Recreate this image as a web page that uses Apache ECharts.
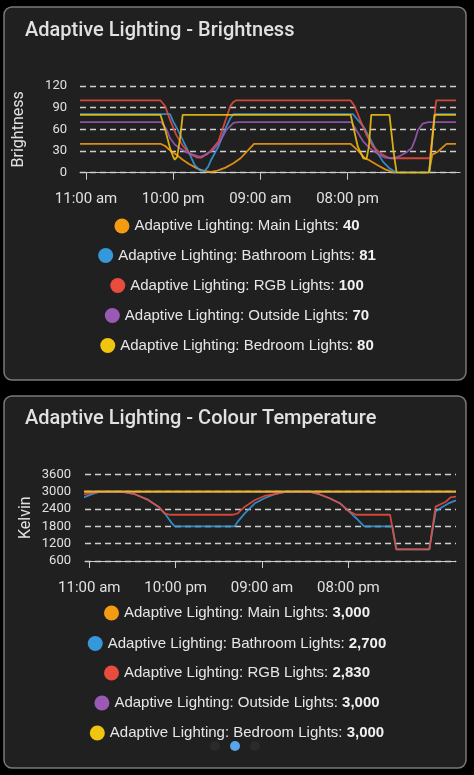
<!DOCTYPE html>
<html>
<head>
<meta charset="utf-8">
<script src="https://cdn.jsdelivr.net/npm/echarts@6/dist/echarts.min.js"></script>
<style>
html,body{margin:0;padding:0;background:#000;}
#chart{width:474px;height:775px;}
</style>
</head>
<body>
<div id="chart"></div>
<script>
// ---------- names, colours, ticks ----------
const seriesNames = [
  'Adaptive Lighting: Main Lights',
  'Adaptive Lighting: Bathroom Lights',
  'Adaptive Lighting: RGB Lights',
  'Adaptive Lighting: Outside Lights',
  'Adaptive Lighting: Bedroom Lights'
];
const seriesColors = ['#f39c12', '#3498db', '#e74c3c', '#9b59b6', '#f1c40f'];
const xTickHours = [0, 11, 22, 33];            // hours after 11:00 am, day 1
const xTickLabels = ['11:00 am', '10:00 pm', '09:00 am', '08:00 pm'];

// ---------- brightness (%) : [hours after 11:00 am, value] ----------
const mainBrightness = [[-0.76,40],[9.4,40],[10.0,37],[10.6,31],[11.4,25],[12.2,18],[13.0,12],[14.0,6],[15.0,2],[15.8,1],[16.6,3],[17.6,7],[18.6,13],[19.5,20],[20.2,28],[20.8,35],[21.2,40],[33.4,40],[34.3,31],[35.2,20],[35.8,17],[36.7,11],[37.7,5],[38.8,0],[43.3,0],[43.7,25],[44.4,29],[45.1,36],[45.5,40],[46.7,40]];
const bathroomBrightness = [[-0.76,81],[10.6,81],[11.0,71],[11.6,59],[12.3,43],[13.1,25],[13.7,11],[14.4,3],[15.0,3],[15.4,8],[15.8,18],[16.7,36],[17.5,59],[18.2,75],[18.6,81],[33.7,81],[34.3,73],[35.0,64],[35.8,48],[36.7,29],[37.5,15],[38.3,6],[39.2,0],[43.3,0],[44.0,81],[46.7,81]];
const rgbBrightness = [[-0.76,100],[9.4,100],[10.0,92],[10.6,73],[11.4,52],[12.3,36],[13.1,26],[14.0,21],[14.6,21],[15.6,29],[16.7,43],[17.5,69],[18.2,92],[18.6,98],[18.9,100],[33.4,100],[33.9,92],[34.6,73],[35.4,52],[36.2,36],[37.3,26],[38.3,20],[43.4,20],[44.2,100],[46.7,100]];
const outsideBrightness = [[-0.76,70],[9.5,70],[10.2,59],[10.6,48],[11.2,39],[11.8,34],[12.7,28],[13.5,25],[14.4,22],[15.2,25],[16.1,32],[16.9,43],[17.7,59],[18.6,69],[19.2,70],[33.5,70],[34.1,59],[35.0,43],[35.8,34],[36.7,27],[37.7,21],[38.8,20],[39.6,23],[40.4,28],[41.1,34],[41.5,45],[41.9,59],[42.5,68],[43.2,70],[46.7,70]];
const bedroomBrightness = [[-0.76,80],[9.4,80],[10.0,59],[10.6,34],[11.0,22],[11.2,18],[11.5,22],[11.9,50],[12.2,80],[33.4,80],[34.3,36],[35.0,20],[35.4,19],[35.7,36],[36.0,80],[38.3,80],[38.8,30],[39.2,0],[43.3,0],[44.0,80],[46.7,80]];
const brightnessNow = [40, 81, 100, 70, 80];

// ---------- colour temperature (K) ----------
const mainKelvin = [[-0.76,3000],[46.7,3000]];
const bathroomKelvin = [[-0.76,2800],[0.7,2950],[1.4,3000],[4.1,3000],[5.8,2910],[7.5,2713],[8.8,2480],[9.6,2250],[10.5,1910],[10.9,1800],[18.5,1800],[18.9,1960],[19.8,2250],[21.1,2600],[22.3,2770],[23.6,2910],[25.1,3000],[28.0,3000],[29.3,2910],[30.6,2770],[31.9,2600],[33.1,2310],[34.0,2080],[35.0,1800],[38.6,1800],[39.1,1000],[43.3,1000],[44.1,2310],[45.0,2480],[45.8,2600],[46.7,2700]];
const rgbKelvin = [[-0.76,2900],[0.7,2970],[1.4,3000],[4.1,3000],[5.8,2910],[7.5,2713],[8.8,2480],[9.6,2250],[10.3,2200],[18.3,2200],[18.9,2250],[19.8,2480],[21.1,2710],[22.3,2850],[23.6,2910],[25.1,3000],[28.0,3000],[29.3,2910],[30.6,2770],[31.9,2600],[33.1,2310],[34.0,2200],[38.3,2200],[39.1,1000],[43.3,1000],[44.1,2480],[45.4,2650],[46.0,2800],[46.7,2830]];
const outsideKelvin = [[-0.76,3000],[46.7,3000]];
const bedroomKelvin = [[-0.76,3000],[46.7,3000]];
const kelvinNow = [3000, 2700, 2830, 3000, 3000];

const brightnessData = [mainBrightness, bathroomBrightness, rgbBrightness, outsideBrightness, bedroomBrightness];
const kelvinData = [mainKelvin, bathroomKelvin, rgbKelvin, outsideKelvin, bedroomKelvin];

// ---------- build ----------
const labelColor = '#e0e0e0';
const gridLine = { color: '#cfcfcf', type: [6, 4], width: 1.3 };

function xAxis(gridIndex, min, max, margin) {
  return {
    type: 'value', gridIndex, min, max,
    axisLine: { show: true, lineStyle: { color: '#cccccc', width: 1 } },
    axisTick: { show: true, length: 7, customValues: xTickHours, lineStyle: { color: '#cccccc' } },
    axisLabel: {
      customValues: xTickHours, margin, color: labelColor, fontSize: 15, fontFamily: 'Roboto',
      formatter: v => xTickLabels[xTickHours.indexOf(Math.round(v))] || ''
    },
    splitLine: { show: false }
  };
}
function yAxis(gridIndex, name, min, max, interval, margin, gap) {
  return {
    type: 'value', gridIndex, min, max, interval,
    name, nameLocation: 'middle', nameGap: gap, nameRotate: 90, nameMoveOverlap: false,
    nameTextStyle: { color: labelColor, fontSize: 16, fontFamily: 'Roboto' },
    axisLine: { show: false }, axisTick: { show: false },
    axisLabel: { color: labelColor, fontSize: 13, fontFamily: 'Roboto', margin, formatter: v => String(v) },
    splitLine: { show: true, lineStyle: gridLine }
  };
}

const series = [];
seriesNames.forEach((n, i) => {
  series.push({ name: n, type: 'line', xAxisIndex: 0, yAxisIndex: 0, data: brightnessData[i],
    showSymbol: false, color: seriesColors[i], lineStyle: { width: 1.8, opacity: 0.88 } });
});
seriesNames.forEach((n, i) => {
  series.push({ name: n, type: 'line', xAxisIndex: 1, yAxisIndex: 1, data: kelvinData[i],
    showSymbol: false, color: seriesColors[i], lineStyle: { width: 1.8, opacity: 0.88 } });
});

const topLegendY = [225, 254.5, 284.5, 314.5, 344.5];
const bottomLegendY = [612, 642.5, 672, 702, 732];
const legends = [];
function addLegends(ys, values) {
  seriesNames.forEach((n, i) => {
    const val = values[i].toLocaleString('en-US');
    legends.push({
      data: [n], left: 'center', top: ys[i] - 11.5,
      icon: 'circle', itemWidth: 15, itemHeight: 15,
      selectedMode: false,
      textStyle: { color: '#e6e6e6', fontSize: 15, fontFamily: 'Liberation Sans, Arial',
        rich: { b: { fontWeight: 'bold', fontSize: 15, color: '#f0f0f0', fontFamily: 'Liberation Sans, Arial' } } },
      formatter: name => name + ': {b|' + val + '}'
    });
  });
}
addLegends(topLegendY, brightnessNow);
addLegends(bottomLegendY, kelvinNow);

const option = {
  backgroundColor: '#000',
  animation: false,
  title: [
    { text: 'Adaptive Lighting - Brightness', left: 25, top: 21, padding: 0,
      textStyle: { color: '#e1e1e1', fontSize: 20, fontWeight: 500, fontFamily: 'Roboto' } },
    { text: 'Adaptive Lighting - Colour Temperature', left: 25, top: 409, padding: 0,
      textStyle: { color: '#e1e1e1', fontSize: 20, fontWeight: 500, fontFamily: 'Roboto' } }
  ],
  graphic: [
    { type: 'rect', z: -100, shape: { x: 4, y: 7, width: 462, height: 373, r: 8 },
      style: { fill: '#202020', stroke: '#7a7a7a', lineWidth: 1.5 } },
    { type: 'rect', z: -100, shape: { x: 4, y: 396, width: 462, height: 372, r: 8 },
      style: { fill: '#202020', stroke: '#7a7a7a', lineWidth: 1.5 } },
    { type: 'circle', z: 10, shape: { cx: 215, cy: 746, r: 5 }, style: { fill: '#2a2a2a' } },
    { type: 'circle', z: 10, shape: { cx: 235, cy: 746, r: 5 }, style: { fill: '#5aa5e8' } },
    { type: 'circle', z: 10, shape: { cx: 255, cy: 746, r: 5 }, style: { fill: '#2a2a2a' } }
  ],
  grid: [
    { left: 80, right: 14, top: 86, height: 86.7 },
    { left: 85, right: 18, top: 474.3, height: 86.7 }
  ],
  xAxis: [xAxis(0, -0.76, 47.2, 19), xAxis(1, -0.55, 46.7, 20)],
  yAxis: [yAxis(0, 'Brightness', 0, 120, 30, 13, 53), yAxis(1, 'Kelvin', 600, 3600, 600, 14, 51)],
  legend: legends,
  tooltip: { show: false },
  series
};

const chart = echarts.init(document.getElementById('chart'), null, { renderer: 'canvas' });
chart.setOption(option);
</script>
</body>
</html>
